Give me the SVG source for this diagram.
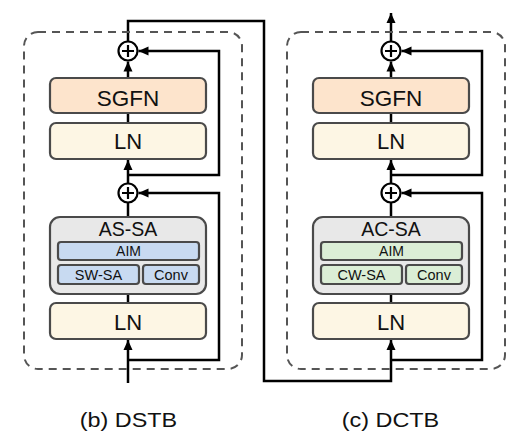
<svg xmlns="http://www.w3.org/2000/svg" width="526" height="440" viewBox="0 0 526 440">
<style>
.frame{fill:none;stroke:#555;stroke-width:2;stroke-dasharray:8 6}
.box{stroke:#4a4a4a;stroke-width:2.2}
.sgfn{fill:#fde4cc}
.ln{fill:#fdf6e4}
.sa{fill:#e8e8e8}
.blue{fill:#c8daf1}
.green{fill:#dbeed6}
.add{fill:#fff;stroke:#000;stroke-width:2.2}
.pl{stroke:#000;stroke-width:2.2}
.c{fill:none;stroke:#000;stroke-width:2.5}
.t{font-family:"Liberation Sans",Arial,sans-serif;text-anchor:middle;fill:#111}
</style>
<defs>
<marker id="ah" markerUnits="userSpaceOnUse" markerWidth="10" markerHeight="10" refX="10" refY="5" orient="auto">
<path d="M0,0.5 L10,5 L0,9.5 z" fill="#000"/>
</marker>
</defs>

<g id="connectors">
<!-- left block -->
<line class="c" x1="128" y1="383" x2="128" y2="340" marker-end="url(#ah)"/>
<polyline class="c" points="128,360 219,360 219,193 138.5,193" marker-end="url(#ah)"/>
<line class="c" x1="128" y1="217" x2="128" y2="203"/>
<line class="c" x1="128" y1="294" x2="128" y2="303"/>
<line class="c" x1="128" y1="183" x2="128" y2="160" marker-end="url(#ah)"/>
<polyline class="c" points="128,175 219,175 219,51 138.5,51" marker-end="url(#ah)"/>
<line class="c" x1="128" y1="113" x2="128" y2="123"/>
<line class="c" x1="128" y1="78" x2="128" y2="61.5" marker-end="url(#ah)"/>
<polyline class="c" points="128,41 128,21 264,21 264,381 391,381 391,340" marker-end="url(#ah)"/>
<!-- right block -->
<polyline class="c" points="391,360 482,360 482,193 401.5,193" marker-end="url(#ah)"/>
<line class="c" x1="391" y1="217" x2="391" y2="203"/>
<line class="c" x1="391" y1="294" x2="391" y2="303"/>
<line class="c" x1="391" y1="183" x2="391" y2="160" marker-end="url(#ah)"/>
<polyline class="c" points="391,175 482,175 482,51 401.5,51" marker-end="url(#ah)"/>
<line class="c" x1="391" y1="113" x2="391" y2="123"/>
<line class="c" x1="391" y1="78" x2="391" y2="61.5" marker-end="url(#ah)"/>
<line class="c" x1="391" y1="41" x2="391" y2="13" marker-end="url(#ah)"/>
</g>

<g id="frame-b"><rect class="frame" x="24" y="32" width="218" height="337" rx="14"/></g>
<g id="frame-c"><rect class="frame" x="287" y="32" width="218" height="337" rx="14"/></g>

<g id="b-add1"><circle class="add" cx="128" cy="51" r="9.5"/><path class="pl" d="M122,51 H134 M128,45 V57"/></g>
<g id="b-sgfn"><rect class="box sgfn" x="50" y="78" width="156" height="35" rx="6"/><text class="t" x="128" y="106" font-size="22.5">SGFN</text></g>
<g id="b-ln1"><rect class="box ln" x="50" y="123" width="156" height="36" rx="6"/><text class="t" x="128" y="149" font-size="22">LN</text></g>
<g id="b-add2"><circle class="add" cx="128" cy="193" r="9.5"/><path class="pl" d="M122,193 H134 M128,187 V199"/></g>
<g id="b-assa">
<rect class="box sa" x="50" y="217" width="156" height="77" rx="10"/>
<text class="t" x="128" y="236" font-size="19.5">AS-SA</text>
<g id="b-aim"><rect class="box blue" x="58" y="242" width="141" height="18" rx="3"/><text class="t" x="128.5" y="256" font-size="14">AIM</text></g>
<g id="b-swsa"><rect class="box blue" x="58" y="265" width="81" height="19" rx="3"/><text class="t" x="98.5" y="280" font-size="14.5">SW-SA</text></g>
<g id="b-conv"><rect class="box blue" x="143" y="265" width="56" height="19" rx="3"/><text class="t" x="171" y="280" font-size="14.5">Conv</text></g>
</g>
<g id="b-ln2"><rect class="box ln" x="50" y="303" width="156" height="36" rx="6"/><text class="t" x="128" y="330" font-size="22">LN</text></g>

<g id="c-add1"><circle class="add" cx="391" cy="51" r="9.5"/><path class="pl" d="M385,51 H397 M391,45 V57"/></g>
<g id="c-sgfn"><rect class="box sgfn" x="313" y="78" width="156" height="35" rx="6"/><text class="t" x="391" y="106" font-size="22.5">SGFN</text></g>
<g id="c-ln1"><rect class="box ln" x="313" y="123" width="156" height="36" rx="6"/><text class="t" x="391" y="149" font-size="22">LN</text></g>
<g id="c-add2"><circle class="add" cx="391" cy="193" r="9.5"/><path class="pl" d="M385,193 H397 M391,187 V199"/></g>
<g id="c-acsa">
<rect class="box sa" x="313" y="217" width="156" height="77" rx="10"/>
<text class="t" x="391" y="236" font-size="19.5">AC-SA</text>
<g id="c-aim"><rect class="box green" x="321" y="242" width="141" height="18" rx="3"/><text class="t" x="391.5" y="256" font-size="14">AIM</text></g>
<g id="c-cwsa"><rect class="box green" x="321" y="265" width="81" height="19" rx="3"/><text class="t" x="361.5" y="280" font-size="14.5">CW-SA</text></g>
<g id="c-conv"><rect class="box green" x="406" y="265" width="56" height="19" rx="3"/><text class="t" x="434" y="280" font-size="14.5">Conv</text></g>
</g>
<g id="c-ln2"><rect class="box ln" x="313" y="303" width="156" height="36" rx="6"/><text class="t" x="391" y="330" font-size="22">LN</text></g>

<g id="captions">
<text class="t" transform="translate(128.5,427) scale(1.17,1)" x="0" y="0" font-size="20">(b) DSTB</text>
<text class="t" transform="translate(390.5,427) scale(1.17,1)" x="0" y="0" font-size="20">(c) DCTB</text>
</g>
</svg>
